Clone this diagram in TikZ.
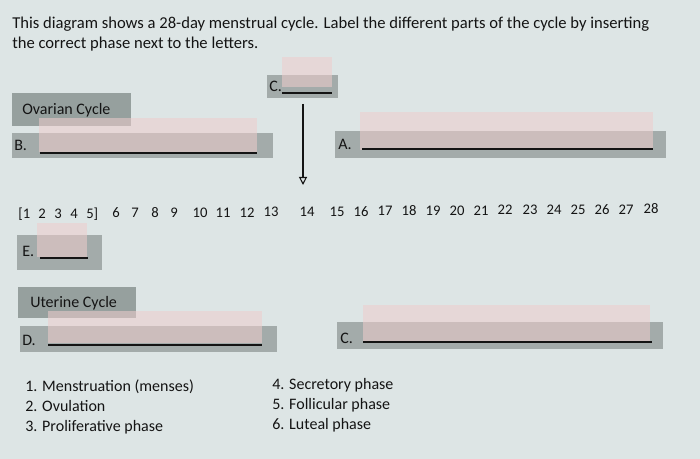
\documentclass[tikz,border=0pt]{standalone}
\usepackage{fontspec}
\setmainfont{Carlito}
\usetikzlibrary{arrows.meta}
\definecolor{bg}{RGB}{221,229,229}
\definecolor{barg}{RGB}{163,171,170}
\definecolor{boxg}{RGB}{150,160,158}
\definecolor{pinkc}{RGB}{238,204,204}
\definecolor{ink}{RGB}{20,20,20}
\begin{document}
\begin{tikzpicture}[x=0.75pt,y=-0.75pt,
  txt/.style={inner sep=0pt, anchor=base west, text=ink, font=\fontsize{12}{14}\selectfont},
  ttl/.style={txt, font=\fontsize{12.45}{14}\selectfont},
  num/.style={inner sep=0pt, anchor=base, text=ink, font=\fontsize{11}{13}\selectfont},
  lett/.style={txt, font=\fontsize{12}{13}\selectfont},
  bar/.style={fill=barg},
  hdr/.style={fill=boxg},
  pinkov/.style={fill=pinkc, fill opacity=0.55},
  uline/.style={draw=ink, line width=1.1pt}]
\useasboundingbox (0,0) rectangle (700,459);
\fill[bg] (0,0) rectangle (700,459);

% title
\node[ttl] (t1) at (12,29) {This diagram shows a 28-day menstrual cycle. Label the different parts of the cycle by inserting};
\node[ttl] (t2) at (12,49) {the correct phase next to the letters.};

% C (top)
\fill[bar] (267,75) rectangle (338,98);
\fill[pinkov] (282,57) rectangle (332,87);
\node[lett] (cTop) at (269,92) {C.};
\draw[uline] (282,93) -- (332,93);
\coordinate (arrowtop) at (303,104);
\coordinate (arrowtip) at (303,185);
\draw[ink, line width=0.8pt, -{Triangle[open,length=6pt,width=6pt]}] (arrowtop) -- (arrowtip);

% Ovarian cycle
\fill[hdr] (12,93) rectangle (131,126);
\node[txt] (ov) at (22,115) {Ovarian Cycle};

% B bar
\fill[bar] (12,133) rectangle (273,158);
\fill[pinkov] (39,118) rectangle (257,152);
\node[lett] (bL) at (14,151) {B.};
\draw[uline] (40,153) -- (257,153);

% A bar
\fill[bar] (335,131) rectangle (666,158);
\fill[pinkov] (360,112) rectangle (653,150);
\node[lett] (aL) at (338,150) {A.};
\draw[uline] (362,149) -- (653,149);

% day numbers
\node[num, anchor=base west] (n1) at (18,219) {[1};
\foreach \n/\x/\y in {2/42/219,3/58/219,4/74/219,6/116/218,7/135/218,8/155/218,9/174/218,10/200/218,11/223/218,12/247/218,13/271/217,14/307/217,15/337/217,16/361/217,17/385/216,18/409/216,19/433/216,20/457/216,21/481/216,22/505/215,23/530/215,24/554/215,25/578/215,26/602/215,27/626/215,28/651/214}
  \node[num] (n\n) at (\x,\y) {\n};
\node[num, anchor=base west] (n5) at (86,219) {5]};

% E box
\fill[bar] (17,235) rectangle (102,270);
\fill[pinkov] (37,223) rectangle (87,257);
\node[lett] (eL) at (22,257) {E.};
\draw[uline] (40,258) -- (88,258);

% Uterine cycle
\fill[hdr] (18,287) rectangle (136,318);
\node[txt] (ut) at (30,308) {Uterine Cycle};

% D bar
\fill[bar] (20,326) rectangle (277,352);
\fill[pinkov] (48,311) rectangle (262,343);
\node[lett] (dL) at (22,346) {D.};
\draw[uline] (48,345) -- (262,345);

% C bar (bottom)
\fill[bar] (337,322) rectangle (663,349);
\fill[pinkov] (363,305) rectangle (650,342);
\node[lett] (cBot) at (340,344) {C.};
\draw[uline] (363,342) -- (652,342);

% list
\node[txt] (l1) at (25,392) {1. Menstruation (menses)};
\node[txt] (l2) at (25,412) {2. Ovulation};
\node[txt] (l3) at (25,432) {3. Proliferative phase};
\node[txt] (l4) at (272,390) {4. Secretory phase};
\node[txt] (l5) at (272,410) {5. Follicular phase};
\node[txt] (l6) at (272,430) {6. Luteal phase};
\end{tikzpicture}
\end{document}
